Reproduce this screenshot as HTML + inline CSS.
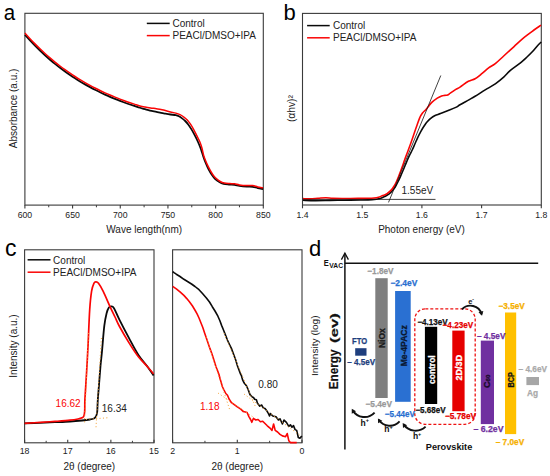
<!DOCTYPE html>
<html><head><meta charset="utf-8"><style>
html,body{margin:0;padding:0;background:#fff;}
svg{display:block;font-family:"Liberation Sans", sans-serif;}
</style></head><body>
<svg width="550" height="476" viewBox="0 0 550 476">
<rect width="550" height="476" fill="#fff"/>
<text x="3.8" y="20.2" font-size="22" fill="#000" text-anchor="start" textLength="11.4" lengthAdjust="spacingAndGlyphs" >a</text>
<rect x="24.9" y="13.3" width="238.4" height="191.79999999999998" fill="none" stroke="#3a3a3a" stroke-width="1.1"/>
<line x1="24.90" y1="205.1" x2="24.90" y2="208.4" stroke="#3a3a3a" stroke-width="1.1"/>
<text x="24.9" y="218.1" font-size="8.7" fill="#222" text-anchor="middle" >600</text>
<line x1="48.74" y1="205.1" x2="48.74" y2="207.29999999999998" stroke="#3a3a3a" stroke-width="1"/>
<line x1="72.58" y1="205.1" x2="72.58" y2="208.4" stroke="#3a3a3a" stroke-width="1.1"/>
<text x="72.58" y="218.1" font-size="8.7" fill="#222" text-anchor="middle" >650</text>
<line x1="96.42" y1="205.1" x2="96.42" y2="207.29999999999998" stroke="#3a3a3a" stroke-width="1"/>
<line x1="120.26" y1="205.1" x2="120.26" y2="208.4" stroke="#3a3a3a" stroke-width="1.1"/>
<text x="120.26" y="218.1" font-size="8.7" fill="#222" text-anchor="middle" >700</text>
<line x1="144.10" y1="205.1" x2="144.10" y2="207.29999999999998" stroke="#3a3a3a" stroke-width="1"/>
<line x1="167.94" y1="205.1" x2="167.94" y2="208.4" stroke="#3a3a3a" stroke-width="1.1"/>
<text x="167.94" y="218.1" font-size="8.7" fill="#222" text-anchor="middle" >750</text>
<line x1="191.78" y1="205.1" x2="191.78" y2="207.29999999999998" stroke="#3a3a3a" stroke-width="1"/>
<line x1="215.62" y1="205.1" x2="215.62" y2="208.4" stroke="#3a3a3a" stroke-width="1.1"/>
<text x="215.62" y="218.1" font-size="8.7" fill="#222" text-anchor="middle" >800</text>
<line x1="239.46" y1="205.1" x2="239.46" y2="207.29999999999998" stroke="#3a3a3a" stroke-width="1"/>
<line x1="263.30" y1="205.1" x2="263.30" y2="208.4" stroke="#3a3a3a" stroke-width="1.1"/>
<text x="263.3" y="218.1" font-size="8.7" fill="#222" text-anchor="middle" >850</text>
<text x="144.2" y="233.2" font-size="10" fill="#222" text-anchor="middle" >Wave length(nm)</text>
<text x="16.9" y="108.4" font-size="10" fill="#222" text-anchor="middle" transform="rotate(-90 16.9 108.4)" >Absorbance (a.u.)</text>
<line x1="146.8" y1="23.4" x2="169.7" y2="23.4" stroke="#0a0a0a" stroke-width="1.5"/>
<line x1="146.8" y1="35.6" x2="169.7" y2="35.6" stroke="#fa0505" stroke-width="1.5"/>
<text x="172.5" y="26.7" font-size="10" fill="#222" text-anchor="start" >Control</text>
<text x="172.5" y="38.8" font-size="10" fill="#222" text-anchor="start" >PEACl/DMSO+IPA</text>
<path d="M25.00,34.92 C25.83,35.84 28.33,38.66 30.00,40.46 C31.67,42.25 33.33,43.99 35.00,45.69 C36.67,47.38 38.33,49.03 40.00,50.63 C41.67,52.23 43.33,53.78 45.00,55.29 C46.67,56.80 48.33,58.27 50.00,59.69 C51.67,61.12 53.33,62.51 55.00,63.85 C56.67,65.20 58.33,66.51 60.00,67.78 C61.67,69.05 63.33,70.29 65.00,71.49 C66.67,72.69 68.33,73.85 70.00,74.99 C71.67,76.12 73.33,77.22 75.00,78.30 C76.67,79.37 78.33,80.41 80.00,81.42 C81.67,82.43 83.33,83.41 85.00,84.37 C86.67,85.32 88.33,86.25 90.00,87.15 C91.67,88.05 93.33,88.93 95.00,89.78 C96.67,90.63 98.33,91.46 100.00,92.26 C101.67,93.07 103.33,93.85 105.00,94.61 C106.67,95.37 108.33,96.10 110.00,96.82 C111.67,97.54 113.33,98.23 115.00,98.91 C116.67,99.59 118.33,100.25 120.00,100.88 C121.67,101.52 123.33,102.14 125.00,102.75 C126.67,103.35 128.33,103.94 130.00,104.51 C131.67,105.08 133.33,105.63 135.00,106.17 C136.67,106.71 138.33,107.23 140.00,107.74 C141.67,108.25 143.33,108.74 145.00,109.22 C146.67,109.70 148.10,110.18 150.00,110.62 C151.90,111.07 154.57,111.52 156.40,111.90 C158.23,112.28 159.48,112.60 161.00,112.90 C162.52,113.20 163.92,113.43 165.50,113.70 C167.08,113.97 168.78,114.25 170.50,114.50 C172.22,114.75 174.40,114.90 175.80,115.20 C177.20,115.50 177.85,115.77 178.90,116.30 C179.95,116.83 181.05,117.62 182.10,118.40 C183.15,119.18 184.15,119.95 185.20,121.00 C186.25,122.05 187.35,123.30 188.40,124.70 C189.45,126.10 190.45,127.65 191.50,129.40 C192.55,131.15 193.65,133.18 194.70,135.20 C195.75,137.22 196.85,139.40 197.80,141.50 C198.75,143.60 199.57,145.55 200.40,147.80 C201.23,150.05 201.95,152.55 202.80,155.00 C203.65,157.45 204.53,160.10 205.50,162.50 C206.47,164.90 207.55,167.35 208.60,169.40 C209.65,171.45 210.73,173.23 211.80,174.80 C212.87,176.37 213.75,177.58 215.00,178.80 C216.25,180.02 217.87,181.25 219.30,182.10 C220.73,182.95 221.98,183.50 223.60,183.90 C225.22,184.30 227.18,184.35 229.00,184.50 C230.82,184.65 232.75,184.58 234.50,184.80 C236.25,185.02 237.45,185.50 239.50,185.80 C241.55,186.10 244.62,186.43 246.80,186.60 C248.98,186.77 250.78,186.57 252.60,186.80 C254.42,187.03 255.97,187.63 257.70,188.00 C259.43,188.37 262.12,188.83 263.00,189.00" fill="none" stroke="#0a0a0a" stroke-width="1.8"/>
<path d="M25.00,33.12 C25.83,34.04 28.33,36.86 30.00,38.66 C31.67,40.45 33.33,42.19 35.00,43.89 C36.67,45.58 38.33,47.23 40.00,48.83 C41.67,50.43 43.33,51.98 45.00,53.49 C46.67,55.00 48.33,56.47 50.00,57.89 C51.67,59.32 53.33,60.71 55.00,62.05 C56.67,63.40 58.33,64.71 60.00,65.98 C61.67,67.25 63.33,68.49 65.00,69.69 C66.67,70.89 68.33,72.05 70.00,73.19 C71.67,74.32 73.33,75.42 75.00,76.50 C76.67,77.57 78.33,78.61 80.00,79.62 C81.67,80.63 83.33,81.61 85.00,82.57 C86.67,83.52 88.33,84.45 90.00,85.35 C91.67,86.25 93.33,87.13 95.00,87.98 C96.67,88.83 98.33,89.66 100.00,90.46 C101.67,91.27 103.33,92.05 105.00,92.81 C106.67,93.57 108.33,94.30 110.00,95.02 C111.67,95.74 113.33,96.43 115.00,97.11 C116.67,97.79 118.33,98.45 120.00,99.08 C121.67,99.72 123.33,100.34 125.00,100.95 C126.67,101.55 128.33,102.14 130.00,102.71 C131.67,103.28 133.33,103.83 135.00,104.37 C136.67,104.91 138.33,105.50 140.00,105.94 C141.67,106.38 143.25,106.67 145.00,107.00 C146.75,107.33 148.60,107.62 150.50,107.90 C152.40,108.18 154.67,108.45 156.40,108.70 C158.13,108.95 159.42,109.08 160.90,109.40 C162.38,109.72 163.70,110.18 165.30,110.60 C166.90,111.02 168.75,111.48 170.50,111.90 C172.25,112.32 174.22,112.63 175.80,113.10 C177.38,113.57 178.60,114.00 180.00,114.70 C181.40,115.40 182.98,116.42 184.20,117.30 C185.42,118.18 186.25,118.85 187.30,120.00 C188.35,121.15 189.45,122.63 190.50,124.20 C191.55,125.77 192.55,127.48 193.60,129.40 C194.65,131.32 195.75,133.60 196.80,135.70 C197.85,137.80 199.03,139.90 199.90,142.00 C200.77,144.10 201.33,145.92 202.00,148.30 C202.67,150.68 203.13,153.83 203.90,156.30 C204.67,158.77 205.63,160.92 206.60,163.10 C207.57,165.28 208.65,167.47 209.70,169.40 C210.75,171.33 211.85,173.22 212.90,174.70 C213.95,176.18 214.78,177.17 216.00,178.30 C217.22,179.43 218.80,180.70 220.20,181.50 C221.60,182.30 222.82,182.75 224.40,183.10 C225.98,183.45 228.02,183.48 229.70,183.60 C231.38,183.72 232.87,183.58 234.50,183.80 C236.13,184.02 237.45,184.60 239.50,184.90 C241.55,185.20 244.62,185.48 246.80,185.60 C248.98,185.72 250.78,185.38 252.60,185.60 C254.42,185.82 255.97,186.53 257.70,186.90 C259.43,187.27 262.12,187.65 263.00,187.80" fill="none" stroke="#fa0505" stroke-width="1.5"/>
<text x="283.6" y="19.8" font-size="22" fill="#000" text-anchor="start" >b</text>
<rect x="302.5" y="13.4" width="238.79999999999995" height="191.6" fill="none" stroke="#3a3a3a" stroke-width="1.1"/>
<line x1="302.50" y1="205.0" x2="302.50" y2="208.3" stroke="#3a3a3a" stroke-width="1.1"/>
<text x="302.5" y="217.8" font-size="8.7" fill="#222" text-anchor="middle" >1.4</text>
<line x1="362.20" y1="205.0" x2="362.20" y2="208.3" stroke="#3a3a3a" stroke-width="1.1"/>
<text x="362.2" y="217.8" font-size="8.7" fill="#222" text-anchor="middle" >1.5</text>
<line x1="421.90" y1="205.0" x2="421.90" y2="208.3" stroke="#3a3a3a" stroke-width="1.1"/>
<text x="421.9" y="217.8" font-size="8.7" fill="#222" text-anchor="middle" >1.6</text>
<line x1="481.60" y1="205.0" x2="481.60" y2="208.3" stroke="#3a3a3a" stroke-width="1.1"/>
<text x="481.6" y="217.8" font-size="8.7" fill="#222" text-anchor="middle" >1.7</text>
<line x1="541.30" y1="205.0" x2="541.30" y2="208.3" stroke="#3a3a3a" stroke-width="1.1"/>
<text x="541.3" y="217.8" font-size="8.7" fill="#222" text-anchor="middle" >1.8</text>
<text x="421.5" y="233.4" font-size="10" fill="#222" text-anchor="middle" >Photon energy (eV)</text>
<text x="294.8" y="108.6" font-size="10" fill="#222" text-anchor="middle" textLength="27" lengthAdjust="spacingAndGlyphs" transform="rotate(-90 294.8 108.6)" >(αhv)²</text>
<line x1="307.1" y1="25.6" x2="329.7" y2="25.6" stroke="#0a0a0a" stroke-width="1.5"/>
<line x1="307.1" y1="37.8" x2="329.7" y2="37.8" stroke="#fa0505" stroke-width="1.5"/>
<text x="333" y="29.0" font-size="10" fill="#222" text-anchor="start" >Control</text>
<text x="333" y="41.0" font-size="10" fill="#222" text-anchor="start" >PEACl/DMSO+IPA</text>
<path d="M303.00,200.30 C305.00,200.35 310.50,200.58 315.00,200.60 C319.50,200.62 325.00,200.47 330.00,200.40 C335.00,200.33 340.00,200.27 345.00,200.20 C350.00,200.13 355.50,200.10 360.00,200.00 C364.50,199.90 368.67,199.85 372.00,199.60 C375.33,199.35 378.00,198.97 380.00,198.50 C382.00,198.03 382.83,197.35 384.00,196.80 C385.17,196.25 386.13,195.70 387.00,195.20 C387.87,194.70 388.45,194.40 389.20,193.80 C389.95,193.20 390.72,192.43 391.50,191.60 C392.28,190.77 393.15,189.82 393.90,188.80 C394.65,187.78 395.30,186.72 396.00,185.50 C396.70,184.28 397.35,183.03 398.10,181.50 C398.85,179.97 399.72,178.05 400.50,176.30 C401.28,174.55 402.05,172.75 402.80,171.00 C403.55,169.25 404.27,167.55 405.00,165.80 C405.73,164.05 406.43,162.27 407.20,160.50 C407.97,158.73 408.77,156.95 409.60,155.20 C410.43,153.45 411.30,151.92 412.20,150.00 C413.10,148.08 414.08,145.77 415.00,143.70 C415.92,141.63 416.72,139.67 417.70,137.60 C418.68,135.53 419.75,133.35 420.90,131.30 C422.05,129.25 423.58,126.85 424.60,125.30 C425.62,123.75 425.98,123.17 427.00,122.00 C428.02,120.83 429.35,119.38 430.70,118.30 C432.05,117.22 433.47,116.28 435.10,115.50 C436.73,114.72 438.32,114.42 440.50,113.60 C442.68,112.78 445.65,111.63 448.20,110.60 C450.75,109.57 453.83,108.37 455.80,107.40 C457.77,106.43 457.90,106.02 460.00,104.80 C462.10,103.58 465.88,101.52 468.40,100.10 C470.92,98.68 472.30,98.00 475.10,96.30 C477.90,94.60 481.83,91.98 485.20,89.90 C488.57,87.82 492.22,85.93 495.30,83.80 C498.38,81.67 501.18,79.35 503.70,77.10 C506.22,74.85 507.60,72.68 510.40,70.30 C513.20,67.92 517.73,65.02 520.50,62.80 C523.27,60.58 525.03,58.83 527.00,57.00 C528.97,55.17 530.58,53.63 532.30,51.80 C534.02,49.97 535.82,47.63 537.30,46.00 C538.78,44.37 540.55,42.67 541.20,42.00" fill="none" stroke="#0a0a0a" stroke-width="1.6"/>
<path d="M303.00,198.60 C304.17,198.65 307.50,198.95 310.00,198.90 C312.50,198.85 315.33,198.50 318.00,198.30 C320.67,198.10 323.50,197.68 326.00,197.70 C328.50,197.72 329.83,198.27 333.00,198.40 C336.17,198.53 340.83,198.50 345.00,198.50 C349.17,198.50 354.17,198.43 358.00,198.40 C361.83,198.37 365.33,198.37 368.00,198.30 C370.67,198.23 372.25,198.18 374.00,198.00 C375.75,197.82 377.07,197.60 378.50,197.20 C379.93,196.80 381.52,196.00 382.60,195.60 C383.68,195.20 384.25,195.13 385.00,194.80 C385.75,194.47 386.30,194.17 387.10,193.60 C387.90,193.03 388.93,192.22 389.80,191.40 C390.67,190.58 391.52,189.68 392.30,188.70 C393.08,187.72 393.80,186.70 394.50,185.50 C395.20,184.30 395.80,183.03 396.50,181.50 C397.20,179.97 398.00,178.05 398.70,176.30 C399.40,174.55 400.05,172.75 400.70,171.00 C401.35,169.25 401.98,167.55 402.60,165.80 C403.22,164.05 403.78,162.25 404.40,160.50 C405.02,158.75 405.65,157.05 406.30,155.30 C406.95,153.55 407.60,151.88 408.30,150.00 C409.00,148.12 409.77,146.03 410.50,144.00 C411.23,141.97 411.97,139.93 412.70,137.80 C413.43,135.67 414.17,133.33 414.90,131.20 C415.63,129.07 416.28,127.25 417.10,125.00 C417.92,122.75 418.90,119.68 419.80,117.70 C420.70,115.72 421.40,114.55 422.50,113.10 C423.60,111.65 424.85,110.78 426.40,109.00 C427.95,107.22 429.98,104.22 431.80,102.40 C433.62,100.58 435.67,99.18 437.30,98.10 C438.93,97.02 440.33,96.35 441.60,95.90 C442.87,95.45 443.90,95.55 444.90,95.40 C445.90,95.25 446.70,95.37 447.60,95.00 C448.50,94.63 448.93,94.13 450.30,93.20 C451.67,92.27 454.18,90.42 455.80,89.40 C457.42,88.38 457.90,88.45 460.00,87.10 C462.10,85.75 465.88,82.70 468.40,81.30 C470.92,79.90 472.87,79.97 475.10,78.70 C477.33,77.43 479.55,75.52 481.80,73.70 C484.05,71.88 486.35,69.48 488.60,67.80 C490.85,66.12 492.78,65.57 495.30,63.60 C497.82,61.63 500.62,58.80 503.70,56.00 C506.78,53.20 510.43,49.87 513.80,46.80 C517.17,43.73 520.53,40.40 523.90,37.60 C527.27,34.80 531.15,32.07 534.00,30.00 C536.85,27.93 539.83,26.00 541.00,25.20" fill="none" stroke="#fa0505" stroke-width="1.6"/>
<line x1="303" y1="199.4" x2="435.5" y2="199.4" stroke="#111" stroke-width="0.8"/>
<line x1="388.5" y1="202.4" x2="440.8" y2="75.5" stroke="#111" stroke-width="0.8"/>
<text x="401.5" y="194.1" font-size="10" fill="#222" text-anchor="start" >1.55eV</text>
<text x="5.0" y="256.4" font-size="23" fill="#000" text-anchor="start" >c</text>
<rect x="24.6" y="249.8" width="129.4" height="193.0" fill="none" stroke="#3a3a3a" stroke-width="1.1"/>
<line x1="24.60" y1="442.8" x2="24.60" y2="439.8" stroke="#3a3a3a" stroke-width="1.1"/>
<text x="24.6" y="453.8" font-size="8.8" fill="#222" text-anchor="middle" >18</text>
<line x1="46.17" y1="442.8" x2="46.17" y2="440.8" stroke="#3a3a3a" stroke-width="1"/>
<line x1="67.73" y1="442.8" x2="67.73" y2="439.8" stroke="#3a3a3a" stroke-width="1.1"/>
<text x="67.73" y="453.8" font-size="8.8" fill="#222" text-anchor="middle" >17</text>
<line x1="89.30" y1="442.8" x2="89.30" y2="440.8" stroke="#3a3a3a" stroke-width="1"/>
<line x1="110.87" y1="442.8" x2="110.87" y2="439.8" stroke="#3a3a3a" stroke-width="1.1"/>
<text x="110.87" y="453.8" font-size="8.8" fill="#222" text-anchor="middle" >16</text>
<line x1="132.43" y1="442.8" x2="132.43" y2="440.8" stroke="#3a3a3a" stroke-width="1"/>
<line x1="154.00" y1="442.8" x2="154.00" y2="439.8" stroke="#3a3a3a" stroke-width="1.1"/>
<text x="154.0" y="453.8" font-size="8.8" fill="#222" text-anchor="middle" >15</text>
<text x="89.3" y="469.6" font-size="10" fill="#222" text-anchor="middle" >2θ (degree)</text>
<text x="17.2" y="346" font-size="10" fill="#222" text-anchor="middle" transform="rotate(-90 17.2 346)" >Intensity (a.u.)</text>
<line x1="27.6" y1="259.8" x2="50.5" y2="259.8" stroke="#0a0a0a" stroke-width="1.5"/>
<line x1="27.6" y1="272.2" x2="50.5" y2="272.2" stroke="#fa0505" stroke-width="1.5"/>
<text x="53.1" y="263.6" font-size="10" fill="#222" text-anchor="start" >Control</text>
<text x="53.1" y="275.7" font-size="10" fill="#222" text-anchor="start" >PEACl/DMSO+IPA</text>
<path d="M24.60,423.30 C27.17,423.22 34.93,422.98 40.00,422.80 C45.07,422.62 50.00,422.42 55.00,422.20 C60.00,421.98 65.50,421.78 70.00,421.50 C74.50,421.22 78.67,420.83 82.00,420.50 C85.33,420.17 88.02,419.83 90.00,419.50 C91.98,419.17 92.90,419.03 93.90,418.50 C94.90,417.97 95.45,417.38 96.00,416.30 C96.55,415.22 96.90,414.72 97.20,412.00 C97.50,409.28 97.50,404.50 97.80,400.00 C98.10,395.50 98.55,390.67 99.00,385.00 C99.45,379.33 100.00,371.62 100.50,366.00 C101.00,360.38 101.37,357.98 102.00,351.30 C102.63,344.62 103.53,332.25 104.30,325.90 C105.07,319.55 105.83,316.25 106.60,313.20 C107.37,310.15 108.13,308.75 108.90,307.60 C109.67,306.45 110.35,306.20 111.20,306.30 C112.05,306.40 112.62,305.93 114.00,308.20 C115.38,310.47 117.02,314.95 119.50,319.90 C121.98,324.85 125.75,332.07 128.90,337.90 C132.05,343.73 135.23,350.02 138.40,354.90 C141.57,359.78 145.37,363.75 147.90,367.20 C150.43,370.65 152.65,374.20 153.60,375.60" fill="none" stroke="#0a0a0a" stroke-width="1.8"/>
<path d="M24.60,423.30 C27.17,423.15 34.93,422.72 40.00,422.40 C45.07,422.08 50.00,421.77 55.00,421.40 C60.00,421.03 66.17,420.60 70.00,420.20 C73.83,419.80 76.00,419.40 78.00,419.00 C80.00,418.60 81.03,418.27 82.00,417.80 C82.97,417.33 83.35,417.33 83.80,416.20 C84.25,415.07 84.52,413.70 84.70,411.00 C84.88,408.30 84.72,404.33 84.90,400.00 C85.08,395.67 85.45,390.83 85.80,385.00 C86.15,379.17 86.62,371.77 87.00,365.00 C87.38,358.23 87.65,353.62 88.10,344.40 C88.55,335.18 89.12,318.57 89.70,309.70 C90.28,300.83 90.90,295.60 91.60,291.20 C92.30,286.80 93.18,284.85 93.90,283.30 C94.62,281.75 95.13,281.90 95.90,281.90 C96.67,281.90 97.30,281.75 98.50,283.30 C99.70,284.85 101.18,287.32 103.10,291.20 C105.02,295.08 108.02,302.30 110.00,306.60 C111.98,310.90 113.42,313.68 115.00,317.00 C116.58,320.32 117.18,322.23 119.50,326.50 C121.82,330.77 125.75,337.55 128.90,342.60 C132.05,347.65 135.23,352.70 138.40,356.80 C141.57,360.90 145.37,364.35 147.90,367.20 C150.43,370.05 152.65,372.78 153.60,373.90" fill="none" stroke="#fa0505" stroke-width="1.7"/>
<g stroke="#f5a030" stroke-width="1" stroke-dasharray="1 2.4" fill="none"><line x1="101.4" y1="338" x2="95.9" y2="429"/><line x1="86" y1="419.4" x2="107.5" y2="417.8"/><line x1="88.4" y1="333" x2="84.5" y2="424"/></g>
<text x="55.6" y="407.2" font-size="10" fill="#fa0505" text-anchor="start" >16.62</text>
<text x="101.8" y="412.4" font-size="10" fill="#222" text-anchor="start" >16.34</text>
<rect x="172.6" y="249.8" width="129.4" height="193.0" fill="none" stroke="#3a3a3a" stroke-width="1.1"/>
<line x1="172.60" y1="442.8" x2="172.60" y2="439.8" stroke="#3a3a3a" stroke-width="1.1"/>
<text x="172.6" y="453.8" font-size="8.8" fill="#222" text-anchor="middle" >2</text>
<line x1="204.95" y1="442.8" x2="204.95" y2="440.8" stroke="#3a3a3a" stroke-width="1"/>
<line x1="237.30" y1="442.8" x2="237.30" y2="439.8" stroke="#3a3a3a" stroke-width="1.1"/>
<text x="237.3" y="453.8" font-size="8.8" fill="#222" text-anchor="middle" >1</text>
<line x1="269.65" y1="442.8" x2="269.65" y2="440.8" stroke="#3a3a3a" stroke-width="1"/>
<line x1="302.00" y1="442.8" x2="302.00" y2="439.8" stroke="#3a3a3a" stroke-width="1.1"/>
<text x="302.0" y="453.8" font-size="8.8" fill="#222" text-anchor="middle" >0</text>
<text x="237.3" y="469.7" font-size="10" fill="#222" text-anchor="middle" >2θ (degree)</text>
<path d="M172.70,271.60 L174.00,272.60 L176.30,274.20 L180.00,276.50 L183.90,279.30 L187.50,281.50 L191.50,284.00 L195.00,286.50 L199.00,289.70 L202.50,293.50 L206.60,298.20 L209.50,302.00 L212.30,306.70 L215.00,311.00 L217.90,316.20 L219.80,320.50 L221.70,325.60 L223.70,330.50 L225.50,335.10 L227.40,340.00 L229.50,344.50 L231.40,348.40 L233.50,354.00 L235.70,360.00 L237.50,366.00 L239.00,370.00 L240.30,373.50 L241.40,375.50 L242.50,379.60 L244.20,383.10 L246.60,386.00 L248.30,390.00 L250.00,394.60 L252.30,397.00 L253.50,397.50 L254.60,399.20 L256.40,399.80 L257.50,403.30 L259.80,406.20 L261.60,405.00 L263.30,407.90 L265.00,408.50 L266.80,410.80 L268.50,413.70 L269.50,416.00 L270.40,413.60 L272.80,416.00 L276.00,416.80 L278.40,420.00 L280.00,418.80 L282.40,424.00 L284.00,420.00 L286.40,422.40 L288.80,426.40 L290.40,424.80 L292.00,427.20 L293.50,425.60 L295.10,429.60 L296.70,430.40 L298.30,437.50 L299.90,438.30 L301.80,435.90" fill="none" stroke="#0a0a0a" stroke-width="1.6" stroke-linejoin="round"/>
<path d="M172.70,286.30 L176.30,288.80 L180.00,291.80 L183.90,295.40 L186.80,298.60 L189.60,302.00 L192.50,306.00 L195.20,310.50 L197.20,314.20 L199.00,318.00 L200.90,322.70 L202.80,327.50 L204.60,333.00 L206.60,338.80 L208.20,343.50 L209.90,348.40 L212.00,354.00 L213.90,360.00 L216.00,366.80 L217.50,370.50 L219.00,374.50 L220.00,378.50 L221.20,382.50 L222.30,386.50 L224.00,390.00 L225.80,393.50 L227.50,395.20 L229.20,399.20 L231.50,402.70 L233.90,404.40 L237.30,406.80 L240.80,409.10 L243.10,411.40 L245.40,412.00 L247.10,412.50 L248.90,416.60 L250.60,419.50 L251.80,422.30 L253.50,418.30 L255.80,420.00 L258.10,419.50 L260.40,421.80 L262.70,421.20 L265.00,423.50 L267.30,425.80 L270.00,428.10 L272.00,430.40 L273.60,424.00 L275.20,430.40 L277.60,432.00 L280.00,434.30 L282.40,435.90 L285.60,436.70 L287.20,433.50 L288.80,440.70 L290.40,442.60 L296.70,442.60" fill="none" stroke="#fa0505" stroke-width="1.6" stroke-linejoin="round"/>
<g stroke="#f5a030" stroke-width="1" stroke-dasharray="1 2.4" fill="none"><line x1="224" y1="333" x2="256" y2="408"/><line x1="244" y1="394" x2="300" y2="435.4"/><line x1="206" y1="337" x2="229.8" y2="410"/><line x1="218" y1="393" x2="253" y2="417"/></g>
<text x="258.3" y="387.7" font-size="10" fill="#222" text-anchor="start" >0.80</text>
<text x="200.0" y="409.8" font-size="10" fill="#fa0505" text-anchor="start" >1.18</text>
<text x="309.0" y="256.0" font-size="22" fill="#000" text-anchor="start" >d</text>
<text x="318.0" y="345.7" font-size="9.4" fill="#222" text-anchor="middle" textLength="60.6" lengthAdjust="spacingAndGlyphs" transform="rotate(-90 318.0 345.7)" >Intensity (log)</text>
<line x1="344.9" y1="253.5" x2="344.9" y2="449.6" stroke="#111" stroke-width="1.5"/>
<polyline points="341.4,259.6 344.9,253.2 348.4,259.6" fill="none" stroke="#111" stroke-width="1.3"/>
<line x1="344.9" y1="263.3" x2="538.2" y2="263.3" stroke="#111" stroke-width="1.4"/>
<text x="323.8" y="265.5" font-size="9.6" fill="#111" text-anchor="start" font-weight="bold" textLength="5.0" lengthAdjust="spacingAndGlyphs" >E</text>
<text x="329.3" y="267.7" font-size="7.4" fill="#111" text-anchor="start" font-weight="bold" textLength="13.7" lengthAdjust="spacingAndGlyphs" >VAC</text>
<text x="338.2" y="389.2" font-size="13" fill="#111" text-anchor="start" font-weight="bold" textLength="39.6" lengthAdjust="spacingAndGlyphs" transform="rotate(-90 338.2 389.2)" stroke="#111" stroke-width="0.2">Energy</text>
<text x="337.9" y="343.0" font-size="11.4" fill="#111" text-anchor="start" font-weight="bold" textLength="30.0" lengthAdjust="spacingAndGlyphs" transform="rotate(-90 337.9 343.0)" stroke="#111" stroke-width="0.2">(ev)</text>
<rect x="375.3" y="278.2" width="12.4" height="119.8" fill="#7f7f7f"/>
<rect x="395.1" y="291.0" width="15.6" height="110.8" fill="#2a70d2"/>
<rect x="424.9" y="326.8" width="12.3" height="77.2" fill="#000"/>
<rect x="452.3" y="330.6" width="12.3" height="80.6" fill="#e60000"/>
<rect x="480.8" y="340.6" width="13.2" height="83.5" fill="#7030a0"/>
<rect x="505.0" y="312.5" width="11.2" height="121.6" fill="#ffc000"/>
<rect x="355.2" y="348.2" width="11.3" height="7.5" fill="#1f3f7e"/>
<rect x="526.4" y="377.0" width="12.6" height="8.1" fill="#a6a6a6"/>
<rect x="414.8" y="308.8" width="60.4" height="115.5" rx="10.5" ry="10.5" fill="none" stroke="#ee1111" stroke-width="1.3" stroke-dasharray="3 2"/>
<text x="384.5" y="348.0" font-size="9" fill="#1a1a1a" text-anchor="start" font-weight="bold" textLength="19.8" lengthAdjust="spacingAndGlyphs" transform="rotate(-90 384.5 348.0)" stroke="#1a1a1a" stroke-width="0.3">NiOx</text>
<text x="406.6" y="366.3" font-size="9" fill="#0a1830" text-anchor="start" font-weight="bold" textLength="41.0" lengthAdjust="spacingAndGlyphs" transform="rotate(-90 406.6 366.3)" stroke="#0a1830" stroke-width="0.3">Me-4PACz</text>
<text x="434.6" y="384.0" font-size="9" fill="#fff" text-anchor="start" font-weight="bold" textLength="28.7" lengthAdjust="spacingAndGlyphs" transform="rotate(-90 434.6 384.0)" stroke="#fff" stroke-width="0.3">control</text>
<text x="462.2" y="380.5" font-size="9" fill="#fff" text-anchor="start" font-weight="bold" textLength="25.7" lengthAdjust="spacingAndGlyphs" transform="rotate(-90 462.2 380.5)" stroke="#fff" stroke-width="0.3">2D/3D</text>
<text x="490.2" y="388.0" font-size="9" fill="#1a0a2a" text-anchor="start" font-weight="bold" transform="rotate(-90 490.2 388.0)" stroke="#1a0a2a" stroke-width="0.3">C<tspan font-size="6.2">60</tspan></text>
<text x="513.9" y="387.5" font-size="9" fill="#111" text-anchor="start" font-weight="bold" textLength="15.4" lengthAdjust="spacingAndGlyphs" transform="rotate(-90 513.9 387.5)" stroke="#111" stroke-width="0.3">BCP</text>
<text x="367.3" y="274.2" font-size="8.9" fill="#999" text-anchor="start" font-weight="bold" textLength="26.3" lengthAdjust="spacingAndGlyphs" stroke="#999" stroke-width="0.25">−1.8eV</text>
<text x="390.4" y="285.5" font-size="8.9" fill="#2a6fd0" text-anchor="start" font-weight="bold" textLength="26.9" lengthAdjust="spacingAndGlyphs" stroke="#2a6fd0" stroke-width="0.25">−2.4eV</text>
<text x="352.0" y="343.6" font-size="8.9" fill="#1f3f7e" text-anchor="start" font-weight="bold" textLength="15.1" lengthAdjust="spacingAndGlyphs" stroke="#1f3f7e" stroke-width="0.25">FTO</text>
<text x="347.3" y="364.8" font-size="8.9" fill="#1f3f7e" text-anchor="start" font-weight="bold" textLength="27.9" lengthAdjust="spacingAndGlyphs" stroke="#1f3f7e" stroke-width="0.25">– 4.5eV</text>
<text x="417.4" y="324.6" font-size="8.9" fill="#111" text-anchor="start" font-weight="bold" textLength="30.3" lengthAdjust="spacingAndGlyphs" stroke="#111" stroke-width="0.25">−4.13eV</text>
<text x="442.6" y="328.4" font-size="8.9" fill="#e60000" text-anchor="start" font-weight="bold" textLength="30.6" lengthAdjust="spacingAndGlyphs" stroke="#e60000" stroke-width="0.25">−4.23eV</text>
<text x="477.0" y="338.8" font-size="8.9" fill="#7030a0" text-anchor="start" font-weight="bold" textLength="28.4" lengthAdjust="spacingAndGlyphs" stroke="#7030a0" stroke-width="0.25">– 4.5eV</text>
<text x="498.5" y="309.4" font-size="8.9" fill="#f5b000" text-anchor="start" font-weight="bold" textLength="26.3" lengthAdjust="spacingAndGlyphs" stroke="#f5b000" stroke-width="0.25">−3.5eV</text>
<text x="518.6" y="371.8" font-size="8.9" fill="#aaa" text-anchor="start" font-weight="bold" textLength="28.4" lengthAdjust="spacingAndGlyphs" stroke="#aaa" stroke-width="0.25">– 4.6eV</text>
<text x="526.9" y="395.6" font-size="8.9" fill="#aaa" text-anchor="start" font-weight="bold" textLength="11.1" lengthAdjust="spacingAndGlyphs" stroke="#aaa" stroke-width="0.25">Ag</text>
<text x="365.5" y="407.3" font-size="8.9" fill="#999" text-anchor="start" font-weight="bold" textLength="26.5" lengthAdjust="spacingAndGlyphs" stroke="#999" stroke-width="0.25">−5.4eV</text>
<text x="384.7" y="417.2" font-size="8.9" fill="#2a6fd0" text-anchor="start" font-weight="bold" textLength="30.3" lengthAdjust="spacingAndGlyphs" stroke="#2a6fd0" stroke-width="0.25">−5.44eV</text>
<text x="415.4" y="413.1" font-size="8.9" fill="#111" text-anchor="start" font-weight="bold" textLength="30.2" lengthAdjust="spacingAndGlyphs" stroke="#111" stroke-width="0.25">−5.68eV</text>
<text x="444.9" y="418.5" font-size="8.9" fill="#e60000" text-anchor="start" font-weight="bold" textLength="31.2" lengthAdjust="spacingAndGlyphs" stroke="#e60000" stroke-width="0.25">−5.78eV</text>
<text x="473.4" y="432.4" font-size="8.9" fill="#7030a0" text-anchor="start" font-weight="bold" textLength="30.1" lengthAdjust="spacingAndGlyphs" stroke="#7030a0" stroke-width="0.25">– 6.2eV</text>
<text x="495.7" y="444.6" font-size="8.9" fill="#f5b000" text-anchor="start" font-weight="bold" textLength="28.5" lengthAdjust="spacingAndGlyphs" stroke="#f5b000" stroke-width="0.25">– 7.0eV</text>
<text x="425.8" y="450.4" font-size="8.8" fill="#111" text-anchor="start" font-weight="bold" textLength="46.5" lengthAdjust="spacingAndGlyphs" >Perovskite</text>
<text x="360.5" y="425.9" font-size="8.5" font-weight="bold" fill="#111">h<tspan font-size="5.5" dy="-3.5">+</tspan></text>
<text x="384.3" y="432.4" font-size="8.5" font-weight="bold" fill="#111">h<tspan font-size="5.5" dy="-3.5">+</tspan></text>
<text x="412.9" y="439.3" font-size="8.5" font-weight="bold" fill="#111">h<tspan font-size="5.5" dy="-3.5">+</tspan></text>
<text x="468.2" y="303.6" font-size="7.5" font-weight="bold" fill="#111">e<tspan font-size="5" dy="-3">-</tspan></text>
<path d="M352.6,410.2 A13.76,13.76 0 0 0 374.6,412.6" fill="none" stroke="#111" stroke-width="1.9"/>
<polygon points="351.79,408.82 356.07,411.19 351.75,413.71" fill="#111"/>
<path d="M378.8,419.8 A13.08,13.08 0 0 0 399.6,421.4" fill="none" stroke="#111" stroke-width="1.9"/>
<polygon points="377.94,418.45 382.31,420.64 378.10,423.34" fill="#111"/>
<path d="M403.6,424.4 A14.47,14.47 0 0 0 425.6,426.6" fill="none" stroke="#111" stroke-width="1.9"/>
<polygon points="402.69,423.08 407.13,425.13 403.01,427.96" fill="#111"/>
<path d="M461.9,309.4 A11.62,11.62 0 0 1 481.6,314.2" fill="none" stroke="#111" stroke-width="1.9"/>
<polygon points="482.03,315.74 478.49,312.37 483.31,311.02" fill="#111"/>
</svg></body></html>
